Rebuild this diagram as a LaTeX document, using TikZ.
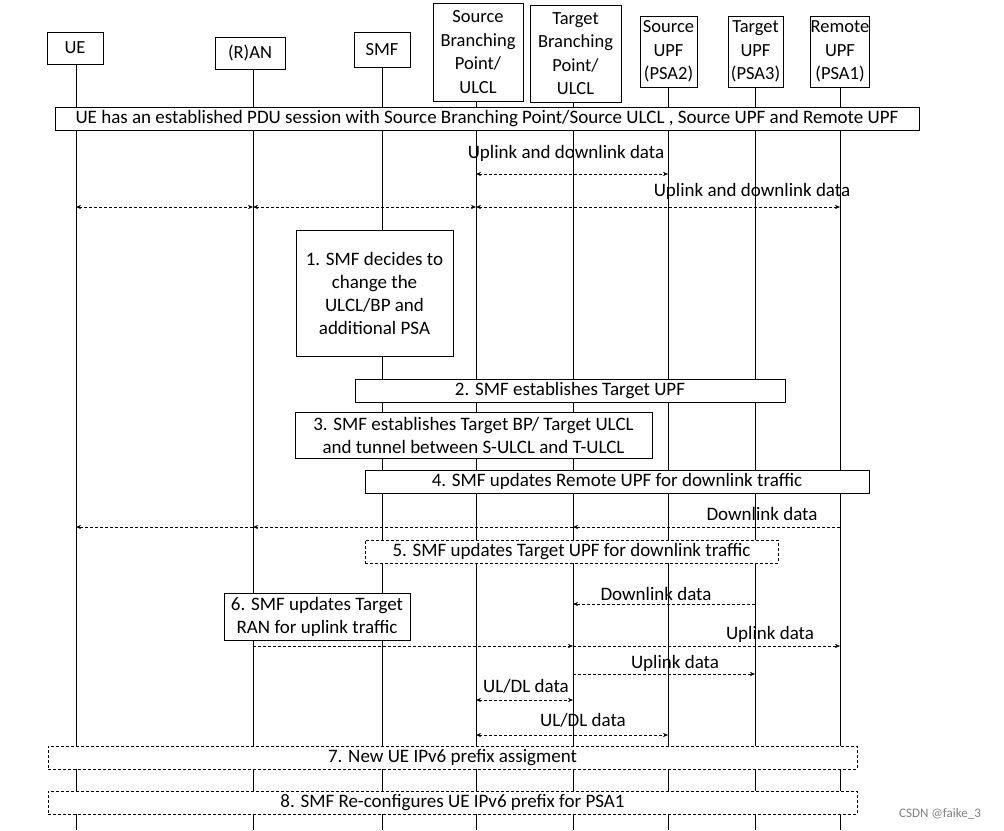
\documentclass[tikz,border=0pt]{standalone}
\usepackage{fontspec}
\setmainfont{Carlito}
\usetikzlibrary{arrows.meta}
\begin{document}
\begin{tikzpicture}[x=1pt,y=-1pt,
  hdr/.style={draw,fill=white,align=center,font=\fontsize{18.5}{23.5}\selectfont,inner sep=0pt},
  box/.style={draw,fill=white,align=center,font=\fontsize{19}{23}\selectfont,inner sep=0pt},
  dbox/.style={box,densely dashed},
  lbl/.style={font=\fontsize{19}{23}\selectfont,inner sep=1pt},
  msg/.style={densely dashed,-{Stealth[length=5pt,width=4pt]}},
  msgb/.style={densely dashed,{Stealth[length=5pt,width=4pt]}-{Stealth[length=5pt,width=4pt]}},
  life/.style={line width=0.5pt}]
\useasboundingbox (0,0) rectangle (1004,830);
\fill[white] (0,0) rectangle (1004,830);
% headers
\node[hdr,minimum width=56,minimum height=32] (ue) at (75,48) {UE};
\node[hdr,minimum width=70,minimum height=32] (ran) at (250,53) {(R)AN};
\node[hdr,minimum width=56,minimum height=35] (smf) at (382,49.5) {SMF};
\node[hdr,minimum width=90,minimum height=98] (sbp) at (478,52) {Source\\Branching\\Point/\\ULCL};
\node[hdr,minimum width=91,minimum height=97] (tbp) at (575.5,53.5) {Target\\Branching\\Point/\\ULCL};
\node[hdr,minimum width=57,minimum height=71] (supf) at (668.5,51.5) {Source\\UPF\\(PSA2)};
\node[hdr,minimum width=55,minimum height=71] (tupf) at (755.5,51.5) {Target\\UPF\\(PSA3)};
\node[hdr,minimum width=56,minimum height=71] (rupf) at (840,51.5) {Remote\\UPF\\(PSA1)};
% lifelines
\foreach \n/\x in {ue/76,ran/253,smf/382,sbp/476,tbp/573,supf/668,tupf/755,rupf/840}{
  \coordinate (\n b) at (\x,830);
  \draw[life] (\n.south -| \n b) -- (\n b);
}
\foreach \n/\x in {ue/76,ran/253,smf/382,sbp/476,tbp/573,supf/668,tupf/755,rupf/840}{
  \foreach \y in {174,207,527,604,646,674,700,735}{\coordinate (\n\y) at (\x,\y);}
}
\node[box,minimum width=864,minimum height=23] (b0) at (487,118.5) {UE has an established PDU session with Source Branching Point/Source ULCL , Source UPF and Remote UPF};
\draw[msgb] (sbp174) -- (supf174);
\node[lbl] (l1) at (566,153) {Uplink and downlink data};
\draw[msgb] (ue207) -- (ran207);
\draw[msgb] (ran207) -- (sbp207);
\draw[msgb] (sbp207) -- (rupf207);
\node[lbl] (l2) at (752,191) {Uplink and downlink data};
\node[box,minimum width=157,minimum height=126] (b1) at (374.5,293) {1. SMF decides to\\change the\\ULCL/BP and\\additional PSA};
\node[box,minimum width=430,minimum height=23] (b2) at (570,390.5) {2. SMF establishes Target UPF};
\node[box,minimum width=357,minimum height=46] (b3) at (473.5,435) {3. SMF establishes Target BP/ Target ULCL\\and tunnel between S-ULCL and T-ULCL};
\node[box,minimum width=504,minimum height=23] (b4) at (617,481.5) {4. SMF updates Remote UPF for downlink traffic};
\draw[msg] (rupf527) -- (tbp527);
\draw[msg] (tbp527) -- (ran527);
\draw[msg] (ran527) -- (ue527);
\node[lbl] (l3) at (762,514) {Downlink data};
\node[dbox,minimum width=413,minimum height=23] (b5) at (571.5,551.5) {5. SMF updates Target UPF for downlink traffic};
\draw[msg] (tupf604) -- (tbp604);
\node[lbl] (l4) at (656,594) {Downlink data};
\node[box,minimum width=186,minimum height=47] (b6) at (317,616.5) {6. SMF updates Target\\RAN for uplink traffic};
\draw[msg] (ran646) -- (tbp646);
\draw[msg] (tbp646) -- (rupf646);
\node[lbl] (l5) at (770,634) {Uplink data};
\draw[msg] (tbp674) -- (tupf674);
\node[lbl] (l6) at (675,663) {Uplink data};
\draw[msgb] (sbp700) -- (tbp700);
\node[lbl] (l7) at (526,686) {UL/DL data};
\draw[msgb] (sbp735) -- (supf735);
\node[lbl] (l8) at (583,720) {UL/DL data};
\node[dbox,minimum width=809,minimum height=23] (b7) at (452.5,757.5) {7. New UE IPv6 prefix assigment};
\node[dbox,minimum width=809,minimum height=23] (b8) at (452.5,802.5) {8. SMF Re-configures UE IPv6 prefix for PSA1};
\node[font=\fontsize{13}{15}\selectfont,text=gray] (wm) at (940,814) {CSDN @faike\_3};
\end{tikzpicture}
\end{document}
